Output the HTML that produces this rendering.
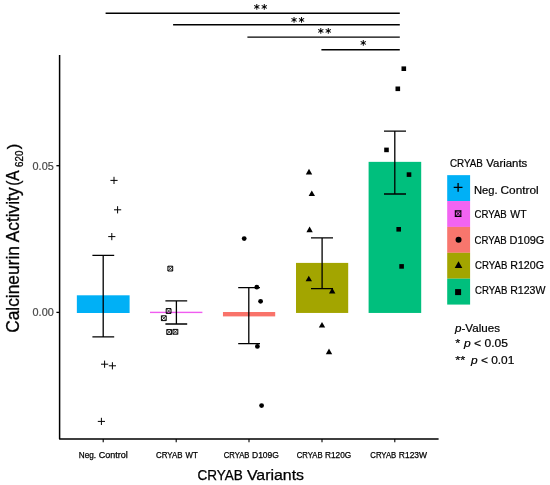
<!DOCTYPE html>
<html lang="en"><head><meta charset="utf-8"><title>Calcineurin Activity by CRYAB Variants</title>
<style>html,body{margin:0;padding:0;background:#fff}svg{display:block}text{font-family:"Liberation Sans",Arial,Helvetica,sans-serif}text.star{font-family:"DejaVu Sans Mono","DejaVu Sans",monospace;font-weight:bold;letter-spacing:0.4px}</style>
</head><body>
<svg width="550" height="485" viewBox="0 0 550 485">
<rect width="550" height="485" fill="#ffffff"/>
<g stroke="#000" stroke-width="1.35" fill="none">
<line x1="105.6" y1="13.2" x2="399.8" y2="13.2"/>
<line x1="173.1" y1="24.75" x2="399.8" y2="24.75"/>
<line x1="247.4" y1="37.1" x2="399.8" y2="37.1"/>
<line x1="321.4" y1="49.7" x2="399.8" y2="49.7"/>
</g>
<g font-size="11.8" fill="#000" text-anchor="middle">
<text class="star" x="260.8" y="12.57">**</text>
<text class="star" x="298" y="26.37">**</text>
<text class="star" x="324.7" y="37.37">**</text>
<text class="star" x="363.6" y="49.37">*</text>
</g>
<rect x="76.85" y="295.3" width="52.75" height="17.7" fill="#00b0f6"/>
<rect x="150" y="311.7" width="52.4" height="1.4" fill="#f05cf0"/>
<rect x="222.95" y="312" width="52.25" height="4.4" fill="#f9736a"/>
<rect x="296" y="262.9" width="52.2" height="50.05" fill="#a3a500"/>
<rect x="368.6" y="161.85" width="52.6" height="151.1" fill="#00bf7d"/>
<g stroke="#000" stroke-width="1.5" fill="none" stroke-linecap="butt" stroke-linejoin="round">
<polyline points="59.6,55 59.6,439.05 438.6,439.05"/>
<line x1="56.4" y1="165.7" x2="59.6" y2="165.7" stroke-width="1.3"/>
<line x1="56.4" y1="312.4" x2="59.6" y2="312.4" stroke-width="1.3"/>
<line x1="103.2" y1="439" x2="103.2" y2="442.2" stroke-width="1.1"/>
<line x1="176.2" y1="439" x2="176.2" y2="442.2" stroke-width="1.1"/>
<line x1="249" y1="439" x2="249" y2="442.2" stroke-width="1.1"/>
<line x1="322" y1="439" x2="322" y2="442.2" stroke-width="1.1"/>
<line x1="394.8" y1="439" x2="394.8" y2="442.2" stroke-width="1.1"/>
</g>
<g stroke="#000" stroke-width="1.3" fill="none">
<path d="M92.4 255.4H114.2M92.4 336.8H114.2M103.2 255.4V336.8"/>
<path d="M165.4 300.8H187.2M165.4 324H187.2M176.4 300.8V324"/>
<path d="M238.2 287.6H260M238.2 343.6H260M248.8 287.6V343.6"/>
<path d="M311 237.9H333M311 288.7H333M322.1 237.9V288.7"/>
<path d="M384 131.2H406M384 194H406M394.8 131.2V194"/>
</g>
<path d="M110.4 180.4H117.6M114 176.8V184" stroke="#000" stroke-width="1.0" fill="none"/>
<path d="M114 209.8H121.2M117.6 206.2V213.4" stroke="#000" stroke-width="1.0" fill="none"/>
<path d="M108.2 236.6H115.4M111.8 233V240.2" stroke="#000" stroke-width="1.0" fill="none"/>
<path d="M101 364.2H108.2M104.6 360.6V367.8" stroke="#000" stroke-width="1.0" fill="none"/>
<path d="M108.8 365.8H116M112.4 362.2V369.4" stroke="#000" stroke-width="1.0" fill="none"/>
<path d="M97.8 421.4H105M101.4 417.8V425" stroke="#000" stroke-width="1.0" fill="none"/>
<path d="M167.9 266.2H172.7V271H167.9Z" stroke="#000" stroke-width="1.0" fill="none"/><path d="M167.9 266.2L172.7 271M167.9 271L172.7 266.2" stroke="#000" stroke-width="0.75" fill="none"/>
<path d="M166.2 308.6H171V313.4H166.2Z" stroke="#000" stroke-width="1.0" fill="none"/><path d="M166.2 308.6L171 313.4M166.2 313.4L171 308.6" stroke="#000" stroke-width="0.75" fill="none"/>
<path d="M161.4 315.8H166.2V320.6H161.4Z" stroke="#000" stroke-width="1.0" fill="none"/><path d="M161.4 315.8L166.2 320.6M161.4 320.6L166.2 315.8" stroke="#000" stroke-width="0.75" fill="none"/>
<path d="M166.8 329.6H171.6V334.4H166.8Z" stroke="#000" stroke-width="1.0" fill="none"/><path d="M166.8 329.6L171.6 334.4M166.8 334.4L171.6 329.6" stroke="#000" stroke-width="0.75" fill="none"/>
<path d="M173 329.4H177.8V334.2H173Z" stroke="#000" stroke-width="1.0" fill="none"/><path d="M173 329.4L177.8 334.2M173 334.2L177.8 329.4" stroke="#000" stroke-width="0.75" fill="none"/>
<circle cx="244.2" cy="238.6" r="2.4" fill="#000"/>
<circle cx="256.8" cy="287.2" r="2.4" fill="#000"/>
<circle cx="260.6" cy="301.3" r="2.4" fill="#000"/>
<circle cx="257.4" cy="346.4" r="2.4" fill="#000"/>
<circle cx="261.6" cy="405.6" r="2.4" fill="#000"/>
<path d="M309 168.8L312.2 174.4L305.8 174.4Z" fill="#000"/>
<path d="M311.8 190.4L315 196L308.6 196Z" fill="#000"/>
<path d="M309.6 226.6L312.8 232.2L306.4 232.2Z" fill="#000"/>
<path d="M308.8 275.7L312 281.3L305.6 281.3Z" fill="#000"/>
<path d="M332.2 287.8L335.4 293.4L329 293.4Z" fill="#000"/>
<path d="M322 322L325.2 327.6L318.8 327.6Z" fill="#000"/>
<path d="M329 348.6L332.2 354.2L325.8 354.2Z" fill="#000"/>
<rect x="401.5" y="66.4" width="4.6" height="4.6" fill="#000"/>
<rect x="395.5" y="86.5" width="4.6" height="4.6" fill="#000"/>
<rect x="384.2" y="147.6" width="4.6" height="4.6" fill="#000"/>
<rect x="406.7" y="172.3" width="4.6" height="4.6" fill="#000"/>
<rect x="396.4" y="227" width="4.6" height="4.6" fill="#000"/>
<rect x="399.3" y="264.1" width="4.6" height="4.6" fill="#000"/>
<g font-size="10.2" fill="#484848" stroke="#484848" stroke-width="0.2" text-anchor="end">
<text x="53.7" y="169.9" textLength="21.1" lengthAdjust="spacingAndGlyphs">0.05</text>
<text x="53.7" y="316.2" textLength="21.1" lengthAdjust="spacingAndGlyphs">0.00</text>
</g>
<g transform="translate(18.6 332.8) rotate(-90)" fill="#000" stroke="#000" stroke-width="0.3">
<text x="0" y="0" font-size="17.8" textLength="145.4" lengthAdjust="spacingAndGlyphs">Calcineurin Activity</text>
<text x="147.0" y="0" font-size="17.8" textLength="15.4" lengthAdjust="spacingAndGlyphs">(A</text>
<text x="165.9" y="4.4" font-size="10.4" textLength="16.2" lengthAdjust="spacingAndGlyphs">620</text>
<text x="183.6" y="0" font-size="17">)</text>
</g>
<text y="458" font-size="8.7" fill="#000" stroke="#000" stroke-width="0.25"><tspan x="78.8" textLength="17.3" lengthAdjust="spacingAndGlyphs">Neg.</tspan> <tspan x="98.7" textLength="29.1" lengthAdjust="spacingAndGlyphs">Control</tspan></text>
<text y="458.3" font-size="8.7" fill="#000" stroke="#000" stroke-width="0.25"><tspan x="156.1" textLength="26.5" lengthAdjust="spacingAndGlyphs">CRYAB</tspan> <tspan x="185.5" textLength="12.2" lengthAdjust="spacingAndGlyphs">WT</tspan></text>
<text y="457.8" font-size="8.7" fill="#000" stroke="#000" stroke-width="0.25"><tspan x="223.7" textLength="25.8" lengthAdjust="spacingAndGlyphs">CRYAB</tspan> <tspan x="252" textLength="26.9" lengthAdjust="spacingAndGlyphs">D109G</tspan></text>
<text y="457.8" font-size="8.7" fill="#000" stroke="#000" stroke-width="0.25"><tspan x="296.7" textLength="25.9" lengthAdjust="spacingAndGlyphs">CRYAB</tspan> <tspan x="325" textLength="26.3" lengthAdjust="spacingAndGlyphs">R120G</tspan></text>
<text y="457.8" font-size="8.7" fill="#000" stroke="#000" stroke-width="0.25"><tspan x="370.3" textLength="26" lengthAdjust="spacingAndGlyphs">CRYAB</tspan> <tspan x="398.8" textLength="28.3" lengthAdjust="spacingAndGlyphs">R123W</tspan></text>
<text y="479.6" font-size="13.8" fill="#000" stroke="#000" stroke-width="0.25"><tspan x="197.4" textLength="45.4" lengthAdjust="spacingAndGlyphs">CRYAB</tspan> <tspan x="246.9" textLength="57.1" lengthAdjust="spacingAndGlyphs">Variants</tspan></text>
<text y="166.8" font-size="11" fill="#000" stroke="#000" stroke-width="0.2"><tspan x="449.9" textLength="33" lengthAdjust="spacingAndGlyphs">CRYAB</tspan> <tspan x="486.3" textLength="41" lengthAdjust="spacingAndGlyphs">Variants</tspan></text>
<rect x="447.2" y="175.15" width="22.9" height="25.9" fill="#00b0f6"/>
<rect x="447.2" y="201.03" width="22.9" height="25.9" fill="#f264f2"/>
<rect x="447.2" y="226.91" width="22.9" height="25.9" fill="#f8766d"/>
<rect x="447.2" y="252.8" width="22.9" height="25.9" fill="#a3a500"/>
<rect x="447.2" y="278.68" width="22.9" height="25.9" fill="#00bf7d"/>
<path d="M453.7 187.3H462.5M458.1 182.9V191.7" stroke="#000" stroke-width="1.3" fill="none"/>
<path d="M455.35 210.85H460.85V216.35H455.35Z" stroke="#000" stroke-width="1.1" fill="none"/><path d="M455.35 210.85L460.85 216.35M455.35 216.35L460.85 210.85" stroke="#000" stroke-width="0.9" fill="none"/>
<circle cx="458.55" cy="239.7" r="3" fill="#000"/>
<path d="M458.5 261.2L462.3 267.9L454.7 267.9Z" fill="#000"/>
<rect x="455.1" y="289.1" width="6" height="6" fill="#000"/>
<text y="193.6" font-size="11" fill="#000" stroke="#000" stroke-width="0.2"><tspan x="474" textLength="23.6" lengthAdjust="spacingAndGlyphs">Neg.</tspan> <tspan x="500.5" textLength="38.2" lengthAdjust="spacingAndGlyphs">Control</tspan></text>
<text y="218" font-size="11" fill="#000" stroke="#000" stroke-width="0.2"><tspan x="474.5" textLength="32.2" lengthAdjust="spacingAndGlyphs">CRYAB</tspan> <tspan x="510.3" textLength="16.2" lengthAdjust="spacingAndGlyphs">WT</tspan></text>
<text y="243.6" font-size="11" fill="#000" stroke="#000" stroke-width="0.2"><tspan x="474.5" textLength="32.2" lengthAdjust="spacingAndGlyphs">CRYAB</tspan> <tspan x="509.6" textLength="34.8" lengthAdjust="spacingAndGlyphs">D109G</tspan></text>
<text y="268.5" font-size="11" fill="#000" stroke="#000" stroke-width="0.2"><tspan x="475.1" textLength="32.2" lengthAdjust="spacingAndGlyphs">CRYAB</tspan> <tspan x="510.2" textLength="33.8" lengthAdjust="spacingAndGlyphs">R120G</tspan></text>
<text y="293.6" font-size="11" fill="#000" stroke="#000" stroke-width="0.2"><tspan x="475.1" textLength="32.2" lengthAdjust="spacingAndGlyphs">CRYAB</tspan> <tspan x="510.2" textLength="35.3" lengthAdjust="spacingAndGlyphs">R123W</tspan></text>
<text x="455" y="331.8" font-size="11" fill="#000" textLength="45" lengthAdjust="spacingAndGlyphs" stroke="#000" stroke-width="0.2"><tspan font-style="italic">p</tspan>-Values</text>
<text y="347.3" font-size="11" fill="#000" stroke="#000" stroke-width="0.2"><tspan x="455.3" textLength="5" lengthAdjust="spacingAndGlyphs">*</tspan> <tspan x="464" textLength="43.9" lengthAdjust="spacingAndGlyphs"><tspan font-style="italic">p</tspan> &lt; 0.05</tspan></text>
<text y="363.7" font-size="11" fill="#000" stroke="#000" stroke-width="0.2"><tspan x="455.3" textLength="10" lengthAdjust="spacingAndGlyphs">**</tspan> <tspan x="471" textLength="43.3" lengthAdjust="spacingAndGlyphs"><tspan font-style="italic">p</tspan> &lt; 0.01</tspan></text>
</svg>
</body></html>
